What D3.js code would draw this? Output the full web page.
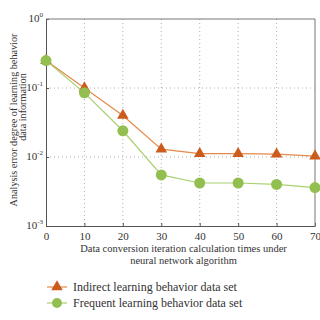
<!DOCTYPE html>
<html>
<head>
<meta charset="utf-8">
<script src="https://cdn.jsdelivr.net/npm/d3@7"></script>
<style>
  body { margin: 0; background: #fff; }
</style>
</head>
<body>
<div id="chart-area"></div>
<script>
// data
const iterations = [0, 10, 20, 30, 40, 50, 60, 70];
const indirectErr = [0.25, 0.1, 0.04, 0.013, 0.0112, 0.0112, 0.011, 0.0103];
const frequentErr = [0.25, 0.085, 0.024, 0.0055, 0.0042, 0.0042, 0.004, 0.0036];
const xTicks = [0, 10, 20, 30, 40, 50, 60, 70];
const yTicks = [1, 0.1, 0.01, 0.001];
const seriesNames = ["Indirect learning behavior data set", "Frequent learning behavior data set"];

const W = 320, H = 320;
const FONT = "'Liberation Serif', 'Times New Roman', 'DejaVu Serif', serif";
var margin = { top: 19, right: 5, bottom: 94, left: 46 };
var width = W - margin.left - margin.right,
    height = H - margin.top - margin.bottom;

var svg = d3.select("#chart-area").append("svg")
    .attr("width", W).attr("height", H)
    .attr("font-family", FONT);
var g = svg.append("g")
    .attr("transform", "translate(" + margin.left + "," + margin.top + ")");

var x = d3.scaleLinear().domain([0, 70]).range([0, width]);
var y = d3.scaleLog().domain([0.001, 1]).range([height, 0]);

// grid
g.selectAll(".vgrid").data(xTicks.slice(1, -1)).enter().append("line")
    .attr("x1", d => x(d)).attr("x2", d => x(d))
    .attr("y1", 0).attr("y2", height)
    .attr("stroke", "#999").attr("stroke-width", 0.8).attr("stroke-dasharray", "1,3");
g.selectAll(".hgrid").data(yTicks.slice(1, -1)).enter().append("line")
    .attr("x1", 0).attr("x2", width)
    .attr("y1", d => y(d)).attr("y2", d => y(d))
    .attr("stroke", "#999").attr("stroke-width", 0.8).attr("stroke-dasharray", "1,3");

// axes
var xAxis = d3.axisBottom(x).tickValues(xTicks).tickSizeInner(-3).tickSizeOuter(0).tickPadding(6);
var gx = g.append("g").attr("transform", "translate(0," + height + ")").call(xAxis);
gx.attr("font-family", FONT);
gx.selectAll("text").attr("font-size", 11).attr("fill", "#333");

var yAxis = d3.axisLeft(y).tickValues(yTicks).tickSizeInner(-3).tickSizeOuter(0).tickFormat("");
var gy = g.append("g").call(yAxis);
gx.selectAll("path, line").attr("stroke", "#555");
gy.selectAll("path, line").attr("stroke", "#555");

// y tick labels as 10^n
yTicks.forEach(function(v) {
  var t = g.append("text")
      .attr("x", -3).attr("y", y(v) + 3)
      .attr("text-anchor", "end").attr("font-size", 11).attr("fill", "#333");
  t.append("tspan").text("10");
  t.append("tspan").attr("dy", -5).attr("font-size", 7).text(Math.round(Math.log10(v)));
});

// top and right frame
g.append("line").attr("x1", 0).attr("x2", width).attr("y1", 0).attr("y2", 0).attr("stroke", "#777");
g.append("line").attr("x1", width).attr("x2", width).attr("y1", 0).attr("y2", height).attr("stroke", "#777");

// series
var line = d3.line().x((d, i) => x(iterations[i])).y(d => y(d));
var triCol = "#cc5c1c", triLine = "#e38a4a";
var cirCol = "#93bf50", cirLine = "#a9d070";

g.append("path").datum(indirectErr).attr("d", line)
    .attr("fill", "none").attr("stroke", triLine).attr("stroke-width", 1.2);
g.append("path").datum(frequentErr).attr("d", line)
    .attr("fill", "none").attr("stroke", cirLine).attr("stroke-width", 1.2);

var tri = d3.symbol().type(d3.symbolTriangle).size(58);
g.selectAll(".tri").data(indirectErr).enter().append("path")
    .attr("d", tri)
    .attr("transform", (d, i) => "translate(" + x(iterations[i]) + "," + y(d) + ")")
    .attr("fill", triCol);
g.selectAll(".cir").data(frequentErr).enter().append("circle")
    .attr("cx", (d, i) => x(iterations[i])).attr("cy", d => y(d))
    .attr("r", 5.5).attr("fill", cirCol);

// axis labels
g.append("text")
    .attr("x", width / 2 + 3).attr("y", height + 26)
    .attr("text-anchor", "middle").attr("font-size", 10.5).attr("fill", "#333")
    .text("Data conversion iteration calculation times under");
g.append("text")
    .attr("x", width / 2 + 3).attr("y", height + 38)
    .attr("text-anchor", "middle").attr("font-size", 10.5).attr("fill", "#333")
    .text("neural network algorithm");

g.append("text")
    .attr("transform", "rotate(-90)")
    .attr("x", -101).attr("y", -29.5)
    .attr("text-anchor", "middle").attr("font-size", 10.2).attr("fill", "#333")
    .text("Analysis error degree of learning behavior");
g.append("text")
    .attr("transform", "rotate(-90)")
    .attr("x", -88).attr("y", -20.5)
    .attr("text-anchor", "middle").attr("font-size", 10.2).attr("fill", "#333")
    .text("data information");

// legend
var legend = svg.append("g");
seriesNames.forEach(function(name, i) {
  var ly = 287 + i * 16;
  legend.append("line").attr("x1", 47).attr("x2", 67).attr("y1", ly).attr("y2", ly)
      .attr("stroke", i == 0 ? triLine : cirLine).attr("stroke-width", 1.2);
  if (i == 0) {
    legend.append("path").attr("d", tri).attr("transform", "translate(57," + ly + ")").attr("fill", triCol);
  } else {
    legend.append("circle").attr("cx", 57).attr("cy", ly).attr("r", 5).attr("fill", cirCol);
  }
  legend.append("text").attr("x", 73).attr("y", ly + 4).attr("font-size", 12).attr("fill", "#333").text(name);
});
</script>
</body>
</html>
